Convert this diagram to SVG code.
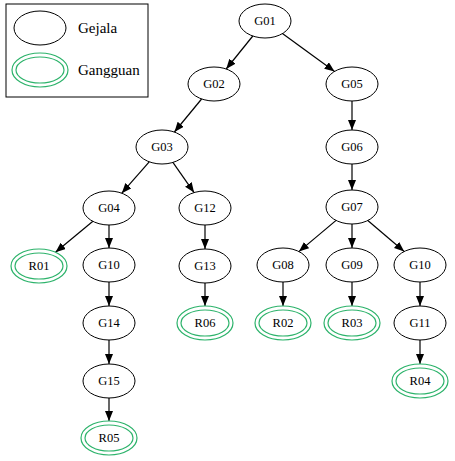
<svg xmlns="http://www.w3.org/2000/svg" width="455" height="461" viewBox="0 0 455 461">
<style>
.g{fill:#fff;stroke:#000;stroke-width:1}
.r{fill:#fff;stroke:#2db36b;stroke-width:1.2}
.ri{fill:none;stroke:#2db36b;stroke-width:1.2}
text{font-family:'Liberation Serif','Times New Roman',serif;font-size:12.5px;fill:#000;text-anchor:middle;dominant-baseline:central}
text.l{font-size:15px;text-anchor:start}
.e{stroke:#000;stroke-width:1.2;fill:none;marker-end:url(#ah)}
</style>
<defs>
<marker id="ah" markerUnits="userSpaceOnUse" markerWidth="12" markerHeight="10" refX="10" refY="4" orient="auto">
<path d="M0,0 L10,4 L0,8 Z" fill="#000"/>
</marker>
</defs>
<rect width="455" height="461" fill="#fff"/>
<g id="legend">
<rect x="6" y="4" width="142" height="93" fill="#fff" stroke="#000" stroke-width="1"/>
<ellipse class="g" cx="40" cy="28" rx="26" ry="17"/>
<text class="l" x="78" y="28">Gejala</text>
<ellipse class="r" cx="40" cy="70" rx="28" ry="17"/>
<ellipse class="ri" cx="40" cy="70" rx="24" ry="13"/>
<text class="l" x="78" y="70">Gangguan</text>
</g>
<g id="connectors">
<line class="e" x1="252.8" y1="36" x2="226.2" y2="69"/>
<line class="e" x1="282.4" y1="33.6" x2="334.6" y2="71.4"/>
<line class="e" x1="201.6" y1="99" x2="174.4" y2="132"/>
<line class="e" x1="352" y1="101" x2="352" y2="130"/>
<line class="e" x1="149.2" y1="161.8" x2="121.8" y2="193.2"/>
<line class="e" x1="172.9" y1="162.4" x2="194.1" y2="192.6"/>
<line class="e" x1="352" y1="164" x2="352" y2="190"/>
<line class="e" x1="92.9" y1="221.3" x2="55.5" y2="252.3"/>
<line class="e" x1="109" y1="225" x2="109" y2="248"/>
<line class="e" x1="336.1" y1="220.4" x2="298.9" y2="251.6"/>
<line class="e" x1="352" y1="224" x2="352" y2="248"/>
<line class="e" x1="367.8" y1="220.5" x2="404.2" y2="251.5"/>
<line class="e" x1="205" y1="225" x2="205" y2="249"/>
<line class="e" x1="109" y1="282" x2="109" y2="306"/>
<line class="e" x1="205" y1="283" x2="205" y2="306"/>
<line class="e" x1="283" y1="282" x2="283" y2="306"/>
<line class="e" x1="352" y1="282" x2="352" y2="306"/>
<line class="e" x1="420" y1="282" x2="420" y2="306"/>
<line class="e" x1="109" y1="340" x2="109" y2="364"/>
<line class="e" x1="420" y1="340" x2="420" y2="364"/>
<line class="e" x1="109" y1="398" x2="109" y2="421"/>
</g>
<g id="G01"><ellipse class="g" cx="265" cy="21" rx="26" ry="17"/><text x="265" y="21">G01</text></g>
<g id="G02"><ellipse class="g" cx="214" cy="84" rx="26" ry="17"/><text x="214" y="84">G02</text></g>
<g id="G05"><ellipse class="g" cx="352" cy="84" rx="26" ry="17"/><text x="352" y="84">G05</text></g>
<g id="G03"><ellipse class="g" cx="162" cy="147" rx="26" ry="17"/><text x="162" y="147">G03</text></g>
<g id="G06"><ellipse class="g" cx="352" cy="147" rx="26" ry="17"/><text x="352" y="147">G06</text></g>
<g id="G04"><ellipse class="g" cx="109" cy="208" rx="26" ry="17"/><text x="109" y="208">G04</text></g>
<g id="G12"><ellipse class="g" cx="205" cy="208" rx="26" ry="17"/><text x="205" y="208">G12</text></g>
<g id="G07"><ellipse class="g" cx="352" cy="207" rx="26" ry="17"/><text x="352" y="207">G07</text></g>
<g id="R01"><ellipse class="r" cx="39" cy="266" rx="28" ry="17"/><ellipse class="ri" cx="39" cy="266" rx="24" ry="13"/><text x="39" y="266">R01</text></g>
<g id="G10a"><ellipse class="g" cx="109" cy="265" rx="26" ry="17"/><text x="109" y="265">G10</text></g>
<g id="G13"><ellipse class="g" cx="205" cy="266" rx="26" ry="17"/><text x="205" y="266">G13</text></g>
<g id="G08"><ellipse class="g" cx="283" cy="265" rx="26" ry="17"/><text x="283" y="265">G08</text></g>
<g id="G09"><ellipse class="g" cx="352" cy="265" rx="26" ry="17"/><text x="352" y="265">G09</text></g>
<g id="G10b"><ellipse class="g" cx="420" cy="265" rx="26" ry="17"/><text x="420" y="265">G10</text></g>
<g id="G14"><ellipse class="g" cx="109" cy="323" rx="26" ry="17"/><text x="109" y="323">G14</text></g>
<g id="R06"><ellipse class="r" cx="205" cy="323" rx="28" ry="17"/><ellipse class="ri" cx="205" cy="323" rx="24" ry="13"/><text x="205" y="323">R06</text></g>
<g id="R02"><ellipse class="r" cx="283" cy="323" rx="28" ry="17"/><ellipse class="ri" cx="283" cy="323" rx="24" ry="13"/><text x="283" y="323">R02</text></g>
<g id="R03"><ellipse class="r" cx="352" cy="323" rx="28" ry="17"/><ellipse class="ri" cx="352" cy="323" rx="24" ry="13"/><text x="352" y="323">R03</text></g>
<g id="G11"><ellipse class="g" cx="420" cy="323" rx="26" ry="17"/><text x="420" y="323">G11</text></g>
<g id="G15"><ellipse class="g" cx="109" cy="381" rx="26" ry="17"/><text x="109" y="381">G15</text></g>
<g id="R04"><ellipse class="r" cx="420" cy="381" rx="28" ry="17"/><ellipse class="ri" cx="420" cy="381" rx="24" ry="13"/><text x="420" y="381">R04</text></g>
<g id="R05"><ellipse class="r" cx="109" cy="438" rx="28" ry="17"/><ellipse class="ri" cx="109" cy="438" rx="24" ry="13"/><text x="109" y="438">R05</text></g>
</svg>
